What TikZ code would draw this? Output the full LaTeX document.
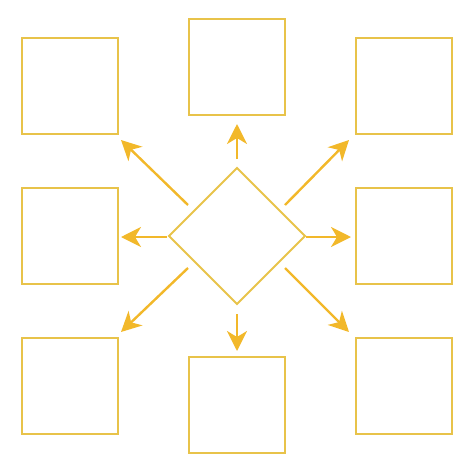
\documentclass[tikz,border=0pt]{standalone}
\usetikzlibrary{shapes.geometric,arrows.meta}
\definecolor{gold}{HTML}{E8C34A}
\definecolor{goldarrow}{HTML}{F2B82A}
\begin{document}
\begin{tikzpicture}[x=1pt,y=-1pt,
  box/.style={draw=gold,line width=2pt,minimum width=96pt,minimum height=96pt,inner sep=0pt,outer sep=0pt},
  dia/.style={draw=gold,line width=1.8pt,diamond,minimum width=136pt,minimum height=136pt,inner sep=0pt,outer sep=0pt},
  arr/.style={draw=goldarrow,line width=2.4pt,-{Stealth[length=20pt,width=20pt,inset=6pt]}}]
\useasboundingbox (0,0) rectangle (474,474);
\node[box] (tl) at (70,86) {};
\node[box] (tc) at (237,67) {};
\node[box] (tr) at (404,86) {};
\node[box] (ml) at (70,236) {};
\node[box] (mr) at (404,236) {};
\node[box] (bl) at (70,386) {};
\node[box] (bc) at (237,405) {};
\node[box] (br) at (404,386) {};
\node[dia] (d) at (237,236) {};
% arrow start and end points
\coordinate (sU) at (237,159); \coordinate (eU) at (237,124);
\coordinate (sD) at (237,314); \coordinate (eD) at (237,351);
\coordinate (sL) at (167,237); \coordinate (eL) at (121,237);
\coordinate (sR) at (306,237); \coordinate (eR) at (351,237);
\coordinate (sUL) at (188,205); \coordinate (eUL) at (121,140);
\coordinate (sUR) at (285,205); \coordinate (eUR) at (349,140);
\coordinate (sDL) at (188,268); \coordinate (eDL) at (121,332);
\coordinate (sDR) at (285,268); \coordinate (eDR) at (349,332);
\draw[arr] (sU) -- (eU);
\draw[arr] (sD) -- (eD);
\draw[arr] (sL) -- (eL);
\draw[arr] (sR) -- (eR);
\draw[arr] (sUL) -- (eUL);
\draw[arr] (sUR) -- (eUR);
\draw[arr] (sDL) -- (eDL);
\draw[arr] (sDR) -- (eDR);
\end{tikzpicture}
\end{document}
